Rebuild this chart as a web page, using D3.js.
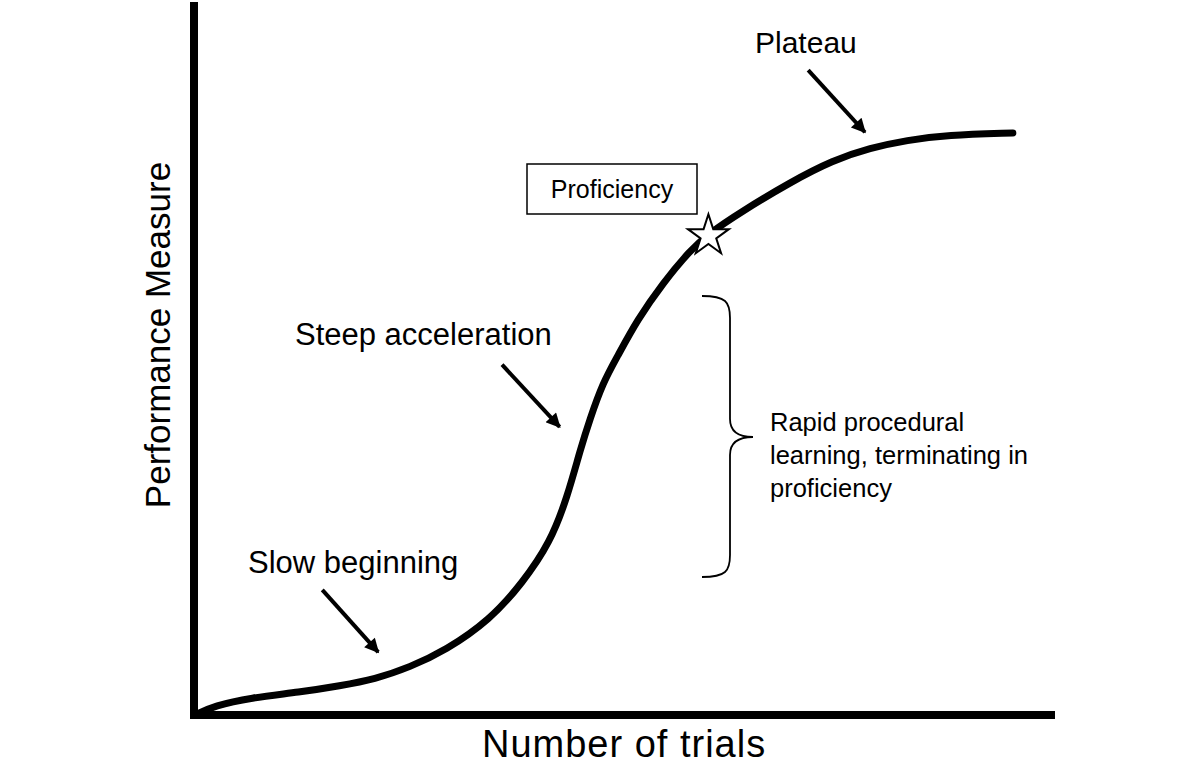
<!DOCTYPE html>
<html>
<head>
<meta charset="utf-8">
<script src="https://cdn.jsdelivr.net/npm/d3@7"></script>
<style>
    html, body { margin: 0; padding: 0; background: #fff; }
    svg { display: block; font-family: "Liberation Sans", Arial, sans-serif; }
</style>
</head>
<body>
<svg id="chart" width="1200" height="780"></svg>
<script>
// Learning curve (0-100 scale on both axes)
const trials = [0, 2.3, 6.4, 12.2, 16.9, 20.9, 25.0, 29.1, 34.3, 38.1, 41.3, 43.3, 44.8, 45.9, 47.4, 49.1, 51.4, 54.4, 57.6, 59.7, 63.4, 69.2, 74.2, 78.5, 82.8, 87.4, 95.1];
const performance = [0, 1.3, 2.4, 3.2, 4.1, 5.0, 6.7, 9.0, 13.3, 18.5, 24.1, 30.5, 37.1, 41.3, 46.4, 50.1, 55.2, 60.4, 65.0, 67.3, 70.3, 74.5, 77.6, 79.3, 80.4, 81.1, 81.4];

const axisLabels = ['Number of trials', 'Performance Measure'];
const phaseLabels = ['Slow beginning', 'Steep acceleration', 'Plateau'];
const proficiencyLabel = 'Proficiency';
const proficiencyIndex = 19;
const rapidLines = ['Rapid procedural', 'learning, terminating in', 'proficiency'];

const svg = d3.select('#chart');
const x0 = 195, x1 = 1055, y0 = 715, y1 = 0;

const x = d3.scaleLinear().domain([0, 100]).range([x0, x1]);
const y = d3.scaleLinear().domain([0, 100]).range([y0, y1]);

const points = trials.map((t, i) => ({ t: t, p: performance[i] }));

// arrow marker
svg.append('defs').append('marker')
    .attr('id', 'head')
    .attr('viewBox', '0 0 10 10')
    .attr('refX', 9)
    .attr('refY', 5)
    .attr('markerWidth', 4.6)
    .attr('markerHeight', 3.6)
    .attr('markerUnits', 'strokeWidth')
    .attr('orient', 'auto')
    .append('path')
    .attr('d', 'M0,0 L10,5 L0,10 Z')
    .attr('fill', '#000');

// axes (no ticks, just heavy lines)
svg.append('line')
    .attr('x1', x(0) - 4).attr('x2', x(100))
    .attr('y1', y(0)).attr('y2', y(0))
    .attr('stroke', '#000').attr('stroke-width', 8);
svg.append('line')
    .attr('x1', x(0) - 1).attr('x2', x(0) - 1)
    .attr('y1', y(0) + 4).attr('y2', y(100) + 2)
    .attr('stroke', '#000').attr('stroke-width', 8);

svg.append('text')
    .attr('x', 482).attr('y', 757)
    .attr('font-size', 38)
    .attr('letter-spacing', 1)
    .text(axisLabels[0]);

svg.append('text')
    .attr('transform', 'translate(170,335) rotate(-90)')
    .attr('text-anchor', 'middle')
    .attr('font-size', 35)
    .text(axisLabels[1]);

// the curve
const line = d3.line()
    .x(d => x(d.t))
    .y(d => y(d.p))
    .curve(d3.curveBasis);

svg.append('path')
    .datum(points)
    .attr('d', line)
    .attr('fill', 'none')
    .attr('stroke', '#000')
    .attr('stroke-width', 7)
    .attr('stroke-linecap', 'round')
    .attr('stroke-linejoin', 'round');

// phase labels with arrows (arrow ends in data units)
const phaseArrows = [
    { from: [14.8, 17.5], to: [21.3, 8.8], label: [248, 573] },
    { from: [35.7, 49.0], to: [42.4, 40.3], label: [295, 345] },
    { from: [71.3, 90.2], to: [77.9, 81.5], label: [755, 53] }
];
const phaseSizes = [31, 31, 30];

phaseArrows.forEach((a, i) => {
    svg.append('line')
        .attr('x1', x(a.from[0])).attr('y1', y(a.from[1]))
        .attr('x2', x(a.to[0])).attr('y2', y(a.to[1]))
        .attr('stroke', '#000')
        .attr('stroke-width', 4)
        .attr('marker-end', 'url(#head)');
    svg.append('text')
        .attr('x', a.label[0]).attr('y', a.label[1])
        .attr('font-size', phaseSizes[i])
        .text(phaseLabels[i]);
});

// proficiency box + star on the curve
svg.append('rect')
    .attr('x', 527).attr('y', 164)
    .attr('width', 170).attr('height', 50)
    .attr('fill', '#fff')
    .attr('stroke', '#000')
    .attr('stroke-width', 1.5);
svg.append('text')
    .attr('x', 612).attr('y', 198)
    .attr('text-anchor', 'middle')
    .attr('font-size', 25)
    .text(proficiencyLabel);

const star = d3.symbol().type(d3.symbolStar).size(520);
const sp = points[proficiencyIndex];
svg.append('path')
    .attr('d', star)
    .attr('transform', `translate(${x(sp.t)},${y(sp.p) + 2})`)
    .attr('fill', '#fff')
    .attr('stroke', '#000')
    .attr('stroke-width', 2);

// curly brace
const bx = 702, spine = 730, tip = 753, bTop = 296, bMid = 437, bBot = 577;
const brace = d3.path();
brace.moveTo(bx, bTop);
brace.bezierCurveTo(spine - 4, bTop, spine, bTop + 6, spine, bTop + 22);
brace.lineTo(spine, bMid - 18);
brace.bezierCurveTo(spine, bMid - 4, spine + 10, bMid, tip, bMid);
brace.bezierCurveTo(spine + 10, bMid, spine, bMid + 4, spine, bMid + 18);
brace.lineTo(spine, bBot - 22);
brace.bezierCurveTo(spine, bBot - 6, spine - 4, bBot, bx, bBot);
svg.append('path')
    .attr('d', brace.toString())
    .attr('fill', 'none')
    .attr('stroke', '#000')
    .attr('stroke-width', 1.8);

svg.append('g').selectAll('text')
    .data(rapidLines)
    .enter()
    .append('text')
    .attr('x', 770)
    .attr('y', (d, i) => 431 + i * 33)
    .attr('font-size', 25.5)
    .text(d => d);
</script>
</body>
</html>
